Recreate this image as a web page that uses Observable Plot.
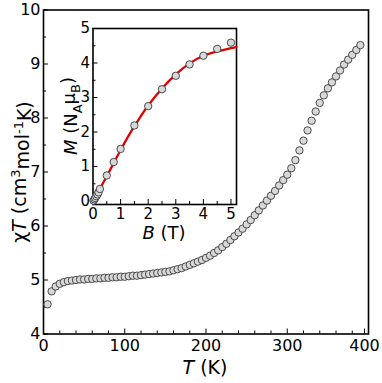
<!DOCTYPE html>
<html><head><meta charset="utf-8">
<script src="https://cdn.jsdelivr.net/npm/d3@7"></script>
<script src="https://cdn.jsdelivr.net/npm/@observablehq/plot@0.6"></script>
<style>
body{margin:0;background:#fff;}
#wrap{position:relative;width:382px;height:383px;}
</style></head>
<body><div id="wrap"></div>
<script>
// Main chart: chi*T vs T
const T = [5,10,15,20,25,30,35,40,45,50,55,60,65,70,75,80,85,90,95,100,
  105,110,115,120,125,130,135,140,145,150,155,160,165,170,175,180,185,190,195,200,
  205,210,215,220,225,230,235,240,245,250,255,260,265,270,275,280,285,290,295,300,
  305,310,315,320,325,330,335,340,345,350,355,360,365,370,375,380,385,390];
const chiT = [4.55,4.79,4.88,4.93,4.96,4.98,4.99,5.00,5.01,5.01,5.02,5.02,5.03,5.03,5.04,5.04,5.05,5.05,5.06,5.06,
  5.07,5.08,5.08,5.09,5.10,5.11,5.12,5.13,5.14,5.15,5.16,5.18,5.20,5.22,5.25,5.28,5.31,5.34,5.37,5.41,
  5.45,5.50,5.55,5.61,5.67,5.74,5.81,5.88,5.95,6.03,6.11,6.20,6.29,6.38,6.47,6.56,6.65,6.75,6.85,6.95,
  7.07,7.22,7.40,7.58,7.77,7.95,8.12,8.28,8.42,8.55,8.66,8.77,8.88,8.99,9.08,9.17,9.26,9.35];
const xMajor = [0,100,200,300];
const xLast = [400];
const xMinor = [20,40,60,80,120,140,160,180,220,240,260,280,320,340,360,380];
const yMajor = [4,5,6,7,8,9,10];
const yMinor = [4.5,5.5,6.5,7.5,8.5,9.5];

// Inset: M vs B
const B = [0.02,0.05,0.08,0.12,0.16,0.2,0.25,0.5,0.75,1,1.5,2,2.5,3,3.5,4,4.5,5];
const M = [0.01,0.05,0.09,0.14,0.19,0.25,0.35,0.74,1.13,1.51,2.19,2.75,3.24,3.63,3.96,4.21,4.41,4.59];
const fitB = [0,0.25,0.5,0.75,1,1.25,1.5,1.75,2,2.5,3,3.5,4,4.5,5,5.2];
const fitM = [0,0.36,0.72,1.1,1.48,1.84,2.17,2.48,2.77,3.26,3.67,3.99,4.21,4.34,4.43,4.47];
const bMajor = [0,1,2,3,4,5];
const bMinor = [0.5,1.5,2.5,3.5,4.5];
const mMajor = [0,1,2,3,4,5];
const mMinor = [0.5,1.5,2.5,3.5,4.5];

const FONT = "DejaVu Sans, Liberation Sans, Arial, sans-serif";
const main = T.map((t,i)=>({T:t, v:chiT[i]}));
const inset = B.map((b,i)=>({B:b, M:M[i]}));
const fit = fitB.map((b,i)=>({B:b, M:fitM[i]}));

const dotStyle = {r:3.7, fill:"#d8d8d8", stroke:"#3a3a3a", strokeWidth:0.9};

const mainPlot = Plot.plot({
  width:382, height:383,
  marginLeft:43, marginRight:14, marginTop:9.5, marginBottom:49.5,
  style:{fontFamily:FONT, fontSize:"16px", color:"#000", background:"white"},
  x:{domain:[0,400]},
  y:{domain:[4,10]},
  marks:[
    Plot.axisX({ticks:xMajor, tickSize:-5, tickPadding:11, label:null, tickFormat:d=>String(d), fontSize:16}),
    Plot.axisX({ticks:xLast, tickSize:-5, tickPadding:11, label:null, tickFormat:d=>String(d), fontSize:16, dx:-4}),
    Plot.axisX({ticks:xMinor, tickSize:-3, label:null, tickFormat:()=>""}),
    Plot.axisY({ticks:yMajor, tickSize:-5, tickPadding:8, label:null, tickFormat:d=>String(d), fontSize:16}),
    Plot.axisY({ticks:yMinor, tickSize:-3, label:null, tickFormat:()=>""}),
    Plot.frame({stroke:"#000", strokeWidth:1.6}),
    Plot.dot(main, {x:"T", y:"v", ...dotStyle})
  ]
});

const insetPlot = Plot.plot({
  width:185, height:225,
  marginLeft:37.5, marginRight:4, marginTop:18, marginBottom:31,
  style:{fontFamily:FONT, fontSize:"15px", color:"#000", background:"transparent", position:"absolute", left:"55px", top:"10px", overflow:"visible"},
  x:{domain:[0,5.2]},
  y:{domain:[-0.1,5]},
  marks:[
    Plot.axisX({ticks:bMajor, tickSize:-5, tickPadding:9, label:null, tickFormat:d=>String(d), fontSize:15}),
    Plot.axisX({ticks:bMinor, tickSize:-3, label:null, tickFormat:()=>""}),
    Plot.axisY({ticks:mMajor, tickSize:-5, tickPadding:8, label:null, tickFormat:d=>String(d), fontSize:15}),
    Plot.axisY({ticks:mMinor, tickSize:-3, label:null, tickFormat:()=>""}),
    Plot.frame({stroke:"#000", strokeWidth:1.6}),
    Plot.line(fit, {x:"B", y:"M", stroke:"#e00000", strokeWidth:2.3, curve:"natural"}),
    Plot.dot(inset, {x:"B", y:"M", ...dotStyle})
  ]
});

const wrap = document.getElementById("wrap");
wrap.appendChild(mainPlot);
wrap.appendChild(insetPlot);

// Axis titles with rich text
function addText(svg, x, y, rotate, size, parts){
  const t = d3.select(svg).append("text")
    .attr("transform", `translate(${x},${y})` + (rotate ? ` rotate(${rotate})` : ""))
    .attr("text-anchor","middle")
    .attr("font-family", FONT)
    .attr("font-size", size)
    .attr("fill","#000");
  for (const p of parts){
    const s = t.append("tspan").text(p.t);
    if (p.i) s.attr("font-style","italic");
    if (p.dy) s.attr("dy", p.dy);
    if (p.fs) s.attr("font-size", p.fs);
  }
}
addText(mainPlot, 26, 172, -90, 19, [
  {t:"χ"},{t:"T", i:true},{t:" (cm"},{t:"3", dy:"-0.45em", fs:13},{t:"mol", dy:"0.45em"},
  {t:"-1", dy:"-0.45em", fs:13},{t:"K)", dy:"0.45em"}
]);
addText(mainPlot, 205, 374, 0, 19, [{t:"T", i:true},{t:" (K)"}]);
addText(insetPlot, 22, 106, -90, 18, [
  {t:"M", i:true},{t:" (N"},{t:"A", dy:"0.35em", fs:13},{t:"μ", dy:"-0.35em"},{t:"B", dy:"0.35em", fs:13},{t:")", dy:"-0.35em"}
]);
addText(insetPlot, 109, 229, 0, 18, [{t:"B", i:true},{t:" (T)"}]);
</script>
</body></html>
